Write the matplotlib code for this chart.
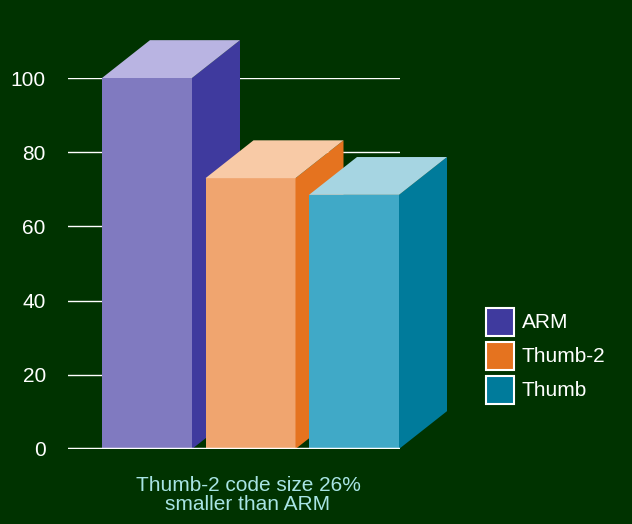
import matplotlib
matplotlib.use("Agg")
import matplotlib.pyplot as plt
from matplotlib.patches import Polygon, Rectangle

categories = ["ARM", "Thumb-2", "Thumb"]
values = [100, 73, 68.5]
yticks = [0, 20, 40, 60, 80, 100]
front = ["#807ac0", "#f0a56f", "#40a9c7"]
side = ["#3f3a9e", "#e5731f", "#007b9b"]
top = ["#b9b4e2", "#f8caa6", "#a6d5e2"]
bg = "#003300"

fig = plt.figure(figsize=(6.32, 5.24), dpi=100, facecolor=bg)
ax = fig.add_axes([68/632, 75/524, 332/632, 371/524])
ax.set_facecolor(bg)
ax.set_xlim(0, 332)
ax.set_ylim(0, 100)
for s in ax.spines.values():
    s.set_visible(False)
ax.set_xticks([])
ax.set_yticks(yticks)
ax.set_yticklabels([str(t) for t in yticks], color="white", fontsize=15, family="Liberation Sans")
ax.tick_params(axis="y", length=0, pad=16)
for t in yticks[1:]:
    ax.axhline(t, color="white", lw=1, zorder=1)
ax.axhline(0, color="white", lw=2.5, zorder=5)

w, dx, dy = 90, 48, 10.2
for i, (v, f, sd, tp) in enumerate(zip(values, front, side, top)):
    x0 = 34 + i * 103.5
    ax.add_patch(Rectangle((x0, 0), w, v, facecolor=f, edgecolor="none", zorder=3, clip_on=False))
    ax.add_patch(Polygon([(x0+w, 0), (x0+w+dx, dy), (x0+w+dx, v+dy), (x0+w, v)],
                         facecolor=sd, edgecolor="none", zorder=3, clip_on=False))
    ax.add_patch(Polygon([(x0, v), (x0+dx, v+dy), (x0+w+dx, v+dy), (x0+w, v)],
                         facecolor=tp, edgecolor="none", zorder=3, clip_on=False))

for i, (c, f) in enumerate(zip(categories, side)):
    yb = 1 - (308 + i*34 + 28) / 524
    fig.patches.append(Rectangle((486/632, yb), 28/632, 28/524, transform=fig.transFigure,
                                 facecolor=f, edgecolor="white", lw=1.5))
    fig.text(522/632, yb + 14/524, c, color="white", fontsize=15, va="center",
             family="Liberation Sans")

fig.text(248/632, 1 - 495/524, "Thumb-2 code size 26%\nsmaller than ARM", color="#a8e4e4",
         fontsize=15, ha="center", va="center", family="Liberation Sans", linespacing=1.05)

fig.savefig("out.png", dpi=100, facecolor=bg)
